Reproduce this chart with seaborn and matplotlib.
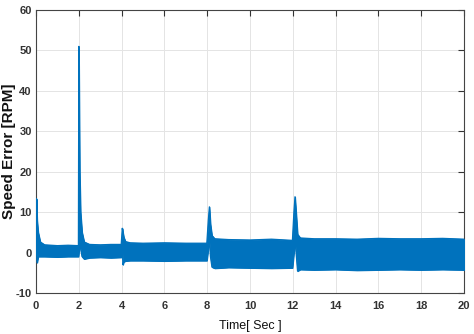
import numpy as np
import pandas as pd
import matplotlib
matplotlib.use("Agg")
import matplotlib.pyplot as plt
import seaborn as sns

# Envelope of the speed-error trace (RPM) at key instants (s)
time_s = [0.0, 0.02, 0.05, 0.10, 0.20, 0.40, 1.0, 1.5, 1.98,
          2.00, 2.04, 2.08, 2.15, 2.25, 2.5, 3.0, 3.5, 3.98,
          4.03, 4.06, 4.10, 4.18, 4.4, 5.0, 6.0, 7.0, 7.98,
          8.05, 8.10, 8.15, 8.22, 8.35, 9.0, 10.0, 11.0, 11.98,
          12.05, 12.10, 12.15, 12.22, 12.35, 13.0, 14.0, 15.0, 16.0,
          17.0, 18.0, 19.0, 20.0]
upper_rpm = [0.5, 13.3, 8.0, 5.0, 2.6, 1.9, 1.7, 1.8, 1.7,
             51.0, 20.0, 10.0, 5.0, 2.6, 2.0, 1.9, 2.0, 2.0,
             6.0, 5.0, 3.8, 2.7, 2.4, 2.3, 2.4, 2.3, 2.3,
             8.0, 11.3, 7.0, 4.2, 3.4, 3.2, 3.1, 3.3, 3.0,
             10.0, 13.8, 10.0, 4.5, 3.6, 3.4, 3.4, 3.3, 3.5,
             3.4, 3.4, 3.5, 3.3]
lower_rpm = [0.0, 0.0, -2.5, -1.0, -1.0, -1.0, -1.1, -1.0, -1.0,
             0.0, 3.0, 1.0, -1.0, -1.6, -1.3, -1.2, -1.3, -1.2,
             1.5, -3.0, -2.3, -2.1, -2.0, -2.0, -2.1, -2.0, -2.0,
             1.0, 3.0, -1.0, -3.6, -3.9, -3.7, -3.8, -3.9, -3.8,
             0.0, 3.0, 0.0, -4.6, -4.2, -4.3, -4.2, -4.4, -4.3,
             -4.2, -4.3, -4.2, -4.3]

x_ticks = list(range(0, 21, 2))
y_ticks = list(range(-10, 61, 10))

df = pd.DataFrame({"Time": time_s, "upper": upper_rpm, "lower": lower_rpm})

sns.set_style("white")
plt.rcParams["font.family"] = ["Liberation Sans", "DejaVu Sans"]

blue = "#0072BD"
fig = plt.figure(figsize=(4.74, 3.34), dpi=100)
ax = fig.add_axes([0.076, 0.123, 0.903, 0.847])

ax.fill_between(df["Time"], df["lower"], df["upper"], color=blue, lw=0.8,
                edgecolor=blue, zorder=3)
sns.lineplot(data=df, x="Time", y="upper", color=blue, lw=0.9, ax=ax, zorder=3)
sns.lineplot(data=df, x="Time", y="lower", color=blue, lw=0.9, ax=ax, zorder=3)

ax.set_xlim(0, 20)
ax.set_ylim(-10, 60)
ax.set_xticks(x_ticks)
ax.set_yticks(y_ticks)
ax.set_xticklabels([str(v) for v in x_ticks], fontsize=8, fontweight="bold", color="#222222")
ax.set_yticklabels([str(v) for v in y_ticks], fontsize=8, fontweight="bold", color="#222222")
ax.grid(True, color="#e4e4e4", lw=0.7, zorder=0)
ax.tick_params(direction="in", length=4, width=0.8, top=True, right=True,
               colors="#333333")
ax.tick_params(axis="x", pad=6)
ax.tick_params(axis="y", pad=3)
for s in ax.spines.values():
    s.set_color("#444444")
    s.set_linewidth(0.8)

ax.set_xlabel("Time[ Sec ]", fontsize=9, color="#111111", labelpad=6)
ax.set_ylabel("Speed Error [RPM]", fontsize=11, fontweight="bold", color="#111111")
ax.yaxis.set_label_coords(-0.047, 0.5)

fig.savefig("out.png", dpi=100)
